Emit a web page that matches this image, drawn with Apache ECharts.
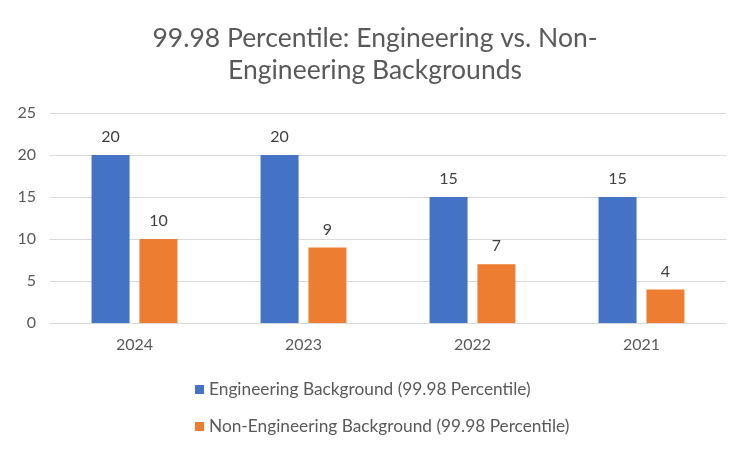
<!DOCTYPE html>
<html>
<head>
<meta charset="utf-8">
<script src="https://cdn.jsdelivr.net/npm/echarts@6/dist/echarts.min.js"></script>
<style>
html, body { margin: 0; padding: 0; background: #fff; }
#main { width: 750px; height: 451px; }
</style>
</head>
<body>
<div id="main"></div>
<script>
var years = ['2024', '2023', '2022', '2021'];
var engineering = [20, 20, 15, 15];
var nonEngineering = [10, 9, 7, 4];
var yTicks = [0, 5, 10, 15, 20, 25];

var myChart = echarts.init(document.getElementById('main'));
var font = 'Lato, "Open Sans", sans-serif';

var option = {
	animation: false,
	title: {
		text: '99.98 Percentile: Engineering vs. Non-\nEngineering Backgrounds',
		left: 'center',
		top: 17,
		textStyle: {
			fontFamily: font,
			fontSize: 26.5,
			fontWeight: 'normal',
			color: '#595959',
			lineHeight: 32
		}
	},
	legend: {
		orient: 'vertical',
		left: 190,
		top: 376,
		itemWidth: 9,
		itemHeight: 9,
		itemGap: 20,
		icon: 'rect',
		textStyle: { fontFamily: font, fontSize: 17.3, color: '#595959' }
	},
	grid: { left: 50, right: 24, top: 113, bottom: 128 },
	xAxis: {
		type: 'category',
		data: years,
		axisLine: { lineStyle: { color: '#d9d9d9', width: 1 } },
		axisTick: { show: false },
		axisLabel: { fontFamily: font, fontSize: 16, color: '#595959', margin: 14 }
	},
	yAxis: {
		type: 'value',
		min: yTicks[0],
		max: yTicks[yTicks.length - 1],
		interval: 5,
		axisLine: { show: false },
		axisTick: { show: false },
		splitLine: { lineStyle: { color: '#d9d9d9', width: 1 } },
		axisLabel: { fontFamily: font, fontSize: 16, color: '#595959', margin: 14 }
	},
	series: [
		{
			name: 'Engineering Background (99.98 Percentile)',
			type: 'bar',
			data: engineering,
			barWidth: 38,
			barGap: '26%',
			itemStyle: { color: '#4472c4' },
			label: { show: true, position: 'top', distance: 10, fontFamily: font, fontSize: 16, color: '#404040' }
		},
		{
			name: 'Non-Engineering Background (99.98 Percentile)',
			type: 'bar',
			data: nonEngineering,
			barWidth: 38,
			itemStyle: { color: '#ed7d31' },
			label: { show: true, position: 'top', distance: 10, fontFamily: font, fontSize: 16, color: '#404040' }
		}
	]
};

myChart.setOption(option);
window.addEventListener('resize', function () {
	myChart.resize();
});
</script>
</body>
</html>
